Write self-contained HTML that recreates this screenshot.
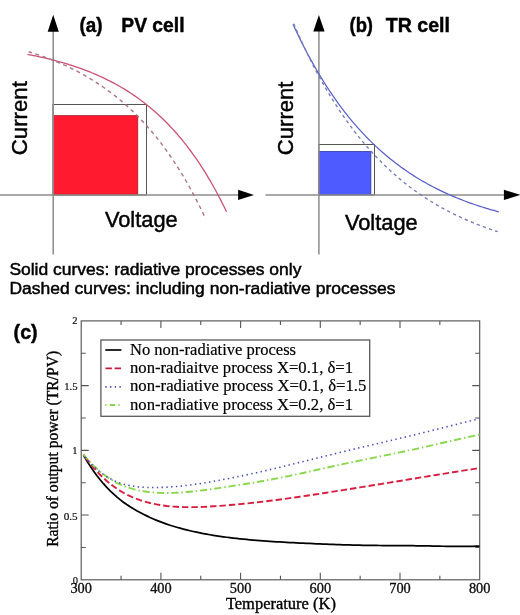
<!DOCTYPE html>
<html><head><meta charset="utf-8"><style>
html,body{margin:0;padding:0;background:#fff;}
svg{display:block;}
.sans{font-family:"Liberation Sans",Arial,sans-serif;}
text.sans{stroke:#000;stroke-width:0.45px;}
.serif text{stroke:#000;stroke-width:0.18px;}
.serif .xl text{stroke-width:0.3px;}
.serif{font-family:"Liberation Serif","Times New Roman",serif;}
</style></head><body>
<svg width="520" height="615" viewBox="0 0 520 615">
<rect width="520" height="615" fill="#fff"/>
<!-- panel (a) -->
<g>
  <rect x="53" y="104.5" width="93.5" height="90.4" fill="#fff" stroke="#555" stroke-width="1"/>
  <rect x="53.2" y="115.6" width="84.6" height="79.3" fill="#ff1a30" stroke="#a0142a" stroke-width="0.7"/>
  <path d="M53.2,30 V254.4" stroke="#8c8c8c" stroke-width="1.5" fill="none"/>
  <path d="M0,194.9 H240" stroke="#8c8c8c" stroke-width="1.5" fill="none"/>
  <path d="M53.2,14.8 L47.7,31.8 L58.8,31.8 Z" fill="#000"/>
  <path d="M254,194.9 L238.1,189.7 L238.1,200.1 Z" fill="#000"/>
  <path d="M27.50,54.38 L29.51,54.77 L31.52,55.16 L33.53,55.57 L35.54,55.98 L37.55,56.40 L39.56,56.84 L41.57,57.28 L43.58,57.74 L45.59,58.21 L47.60,58.69 L49.61,59.18 L51.62,59.68 L53.63,60.19 L55.64,60.72 L57.65,61.26 L59.66,61.82 L61.67,62.38 L63.68,62.96 L65.69,63.56 L67.70,64.17 L69.71,64.79 L71.72,65.44 L73.73,66.09 L75.74,66.76 L77.75,67.45 L79.76,68.16 L81.77,68.88 L83.78,69.62 L85.79,70.38 L87.80,71.16 L89.81,71.96 L91.82,72.77 L93.83,73.61 L95.84,74.46 L97.85,75.34 L99.86,76.24 L101.87,77.16 L103.88,78.11 L105.89,79.07 L107.90,80.07 L109.91,81.08 L111.92,82.12 L113.93,83.19 L115.94,84.28 L117.95,85.40 L119.96,86.54 L121.97,87.72 L123.98,88.92 L125.99,90.16 L128.01,91.42 L130.02,92.71 L132.03,94.04 L134.04,95.40 L136.05,96.79 L138.06,98.21 L140.07,99.68 L142.08,101.17 L144.09,102.71 L146.10,104.28 L148.11,105.89 L150.12,107.54 L152.13,109.23 L154.14,110.96 L156.15,112.73 L158.16,114.55 L160.17,116.41 L162.18,118.32 L164.19,120.27 L166.20,122.28 L168.21,124.33 L170.22,126.43 L172.23,128.58 L174.24,130.79 L176.25,133.05 L178.26,135.37 L180.27,137.74 L182.28,140.17 L184.29,142.66 L186.30,145.22 L188.31,147.83 L190.32,150.51 L192.33,153.26 L194.34,156.07 L196.35,158.95 L198.36,161.90 L200.37,164.93 L202.38,168.03 L204.39,171.20 L206.40,174.45 L208.41,177.79 L210.42,181.20 L212.43,184.70 L214.44,188.29 L216.45,191.96 L218.46,195.72 L220.47,199.58 L222.48,203.53 L224.49,207.57 L226.50,211.72" stroke="#cc5274" stroke-width="1.3" fill="none"/>
  <path d="M28.70,51.71 L30.49,52.26 L32.28,52.83 L34.06,53.40 L35.85,53.99 L37.64,54.59 L39.43,55.20 L41.22,55.82 L43.00,56.46 L44.79,57.10 L46.58,57.77 L48.37,58.44 L50.15,59.13 L51.94,59.83 L53.73,60.54 L55.52,61.27 L57.31,62.01 L59.09,62.77 L60.88,63.54 L62.67,64.33 L64.46,65.14 L66.25,65.96 L68.03,66.79 L69.82,67.65 L71.61,68.52 L73.40,69.40 L75.18,70.31 L76.97,71.23 L78.76,72.17 L80.55,73.13 L82.34,74.11 L84.12,75.11 L85.91,76.13 L87.70,77.16 L89.49,78.22 L91.28,79.30 L93.06,80.40 L94.85,81.52 L96.64,82.67 L98.43,83.84 L100.22,85.03 L102.00,86.24 L103.79,87.48 L105.58,88.74 L107.37,90.03 L109.15,91.35 L110.94,92.69 L112.73,94.05 L114.52,95.45 L116.31,96.87 L118.09,98.32 L119.88,99.80 L121.67,101.30 L123.46,102.84 L125.25,104.41 L127.03,106.01 L128.82,107.64 L130.61,109.30 L132.40,111.00 L134.18,112.73 L135.97,114.49 L137.76,116.29 L139.55,118.12 L141.34,119.99 L143.12,121.90 L144.91,123.85 L146.70,125.83 L148.49,127.86 L150.28,129.92 L152.06,132.02 L153.85,134.17 L155.64,136.36 L157.43,138.59 L159.22,140.87 L161.00,143.19 L162.79,145.56 L164.58,147.98 L166.37,150.44 L168.15,152.95 L169.94,155.51 L171.73,158.12 L173.52,160.79 L175.31,163.51 L177.09,166.28 L178.88,169.10 L180.67,171.98 L182.46,174.92 L184.25,177.92 L186.03,180.98 L187.82,184.10 L189.61,187.27 L191.40,190.52 L193.18,193.82 L194.97,197.20 L196.76,200.64 L198.55,204.14 L200.34,207.72 L202.12,211.37 L203.91,215.09 L205.70,218.88" stroke="#ad7488" stroke-width="1.4" fill="none" stroke-dasharray="3.9,3.51" stroke-dashoffset="0.26"/>
  <text class="sans" x="79.5" y="31.5" font-size="20" font-weight="bold" textLength="23" lengthAdjust="spacingAndGlyphs">(a)</text>
  <text class="sans" x="121.3" y="31.5" font-size="20" font-weight="bold" textLength="63.2" lengthAdjust="spacingAndGlyphs">PV cell</text>
  <text class="sans" transform="translate(26.6,155.2) rotate(-90)" font-size="22.6" textLength="74" lengthAdjust="spacingAndGlyphs">Current</text>
  <text class="sans" x="104.9" y="227.3" font-size="21.5" textLength="72.8" lengthAdjust="spacingAndGlyphs">Voltage</text>
</g>
<!-- panel (b) -->
<g>
  <rect x="318.8" y="144.5" width="55.7" height="50.3" fill="#fff" stroke="#555" stroke-width="1"/>
  <rect x="318.9" y="151.4" width="52" height="43.5" fill="#4d5bff" stroke="#2a2f90" stroke-width="0.7"/>
  <path d="M318.9,30 V254.6" stroke="#8c8c8c" stroke-width="1.5" fill="none"/>
  <path d="M265.5,194.9 H505" stroke="#8c8c8c" stroke-width="1.5" fill="none"/>
  <path d="M318.9,15 L313.3,31.5 L324.6,31.5 Z" fill="#000"/>
  <path d="M520.5,194.9 L503.9,189.8 L503.9,200 Z" fill="#000"/>
  <path d="M293.00,24.20 L295.08,28.70 L297.16,33.10 L299.24,37.40 L301.32,41.62 L303.39,45.75 L305.47,49.79 L307.55,53.75 L309.63,57.62 L311.71,61.41 L313.79,65.12 L315.87,68.76 L317.95,72.31 L320.02,75.80 L322.10,79.20 L324.18,82.54 L326.26,85.81 L328.34,89.01 L330.42,92.14 L332.50,95.21 L334.58,98.21 L336.65,101.14 L338.73,104.02 L340.81,106.84 L342.89,109.59 L344.97,112.29 L347.05,114.93 L349.13,117.52 L351.21,120.05 L353.28,122.53 L355.36,124.96 L357.44,127.33 L359.52,129.66 L361.60,131.93 L363.68,134.16 L365.76,136.34 L367.84,138.48 L369.92,140.57 L371.99,142.62 L374.07,144.62 L376.15,146.58 L378.23,148.50 L380.31,150.38 L382.39,152.22 L384.47,154.03 L386.55,155.79 L388.62,157.52 L390.70,159.21 L392.78,160.86 L394.86,162.48 L396.94,164.07 L399.02,165.62 L401.10,167.14 L403.18,168.63 L405.25,170.09 L407.33,171.51 L409.41,172.91 L411.49,174.28 L413.57,175.61 L415.65,176.92 L417.73,178.21 L419.81,179.46 L421.88,180.69 L423.96,181.89 L426.04,183.07 L428.12,184.23 L430.20,185.35 L432.28,186.46 L434.36,187.54 L436.44,188.60 L438.52,189.64 L440.59,190.65 L442.67,191.65 L444.75,192.62 L446.83,193.57 L448.91,194.50 L450.99,195.42 L453.07,196.31 L455.15,197.18 L457.22,198.04 L459.30,198.88 L461.38,199.70 L463.46,200.50 L465.54,201.29 L467.62,202.06 L469.70,202.81 L471.78,203.55 L473.85,204.27 L475.93,204.98 L478.01,205.67 L480.09,206.35 L482.17,207.01 L484.25,207.66 L486.33,208.30 L488.41,208.92 L490.48,209.53 L492.56,210.13 L494.64,210.71 L496.72,211.28 L498.80,211.84" stroke="#5a60c8" stroke-width="1.25" fill="none"/>
  <path d="M293.00,22.05 L295.07,26.89 L297.14,31.63 L299.20,36.28 L301.27,40.83 L303.34,45.30 L305.41,49.67 L307.47,53.96 L309.54,58.16 L311.61,62.28 L313.68,66.32 L315.74,70.27 L317.81,74.15 L319.88,77.95 L321.95,81.67 L324.02,85.32 L326.08,88.90 L328.15,92.41 L330.22,95.84 L332.29,99.21 L334.35,102.51 L336.42,105.74 L338.49,108.91 L340.56,112.02 L342.62,115.06 L344.69,118.05 L346.76,120.97 L348.83,123.84 L350.89,126.65 L352.96,129.40 L355.03,132.10 L357.10,134.74 L359.17,137.33 L361.23,139.87 L363.30,142.36 L365.37,144.80 L367.44,147.19 L369.50,149.54 L371.57,151.83 L373.64,154.08 L375.71,156.29 L377.77,158.45 L379.84,160.57 L381.91,162.65 L383.98,164.68 L386.05,166.67 L388.11,168.63 L390.18,170.55 L392.25,172.42 L394.32,174.26 L396.38,176.07 L398.45,177.83 L400.52,179.57 L402.59,181.26 L404.65,182.93 L406.72,184.56 L408.79,186.16 L410.86,187.72 L412.93,189.26 L414.99,190.76 L417.06,192.23 L419.13,193.68 L421.20,195.10 L423.26,196.48 L425.33,197.84 L427.40,199.18 L429.47,200.48 L431.53,201.76 L433.60,203.02 L435.67,204.25 L437.74,205.45 L439.81,206.63 L441.87,207.79 L443.94,208.93 L446.01,210.04 L448.08,211.13 L450.14,212.20 L452.21,213.24 L454.28,214.27 L456.35,215.28 L458.41,216.26 L460.48,217.23 L462.55,218.17 L464.62,219.10 L466.68,220.01 L468.75,220.90 L470.82,221.77 L472.89,222.63 L474.96,223.47 L477.02,224.29 L479.09,225.10 L481.16,225.89 L483.23,226.66 L485.29,227.42 L487.36,228.16 L489.43,228.89 L491.50,229.60 L493.56,230.30 L495.63,230.99 L497.70,231.66" stroke="#7a7eb4" stroke-width="1.4" fill="none" stroke-dasharray="3.3,3.2" stroke-dashoffset="4.73"/>
  <text class="sans" x="349.5" y="31.5" font-size="20" font-weight="bold" textLength="23.5" lengthAdjust="spacingAndGlyphs">(b)</text>
  <text class="sans" x="385.8" y="31.5" font-size="20" font-weight="bold" textLength="64.2" lengthAdjust="spacingAndGlyphs">TR cell</text>
  <text class="sans" transform="translate(293.1,155.2) rotate(-90)" font-size="22.6" textLength="73.7" lengthAdjust="spacingAndGlyphs">Current</text>
  <text class="sans" x="344.9" y="229.6" font-size="21.5" textLength="72.8" lengthAdjust="spacingAndGlyphs">Voltage</text>
</g>
<!-- caption lines -->
<text class="sans" x="9.4" y="275.3" font-size="16" textLength="292" lengthAdjust="spacingAndGlyphs">Solid curves: radiative processes only</text>
<text class="sans" x="9.4" y="294.2" font-size="16" textLength="386" lengthAdjust="spacingAndGlyphs">Dashed curves: including non-radiative processes</text>
<!-- panel (c) -->
<text class="sans" x="13.6" y="339.2" font-size="20.5" font-weight="bold" textLength="24" lengthAdjust="spacingAndGlyphs">(c)</text>
<g class="serif">
  <rect x="81.2" y="320.9" width="398.50" height="258.90" fill="none" stroke="#555" stroke-width="1.15"/>
  <path d="M121.05,579.80 V575.80 M121.05,320.90 V324.90 M160.90,579.80 V572.80 M160.90,320.90 V327.90 M200.75,579.80 V575.80 M200.75,320.90 V324.90 M240.60,579.80 V572.80 M240.60,320.90 V327.90 M280.45,579.80 V575.80 M280.45,320.90 V324.90 M320.30,579.80 V572.80 M320.30,320.90 V327.90 M360.15,579.80 V575.80 M360.15,320.90 V324.90 M400.00,579.80 V572.80 M400.00,320.90 V327.90 M439.85,579.80 V575.80 M439.85,320.90 V324.90 M81.20,547.44 H85.70 M479.70,547.44 H475.20 M81.20,515.07 H88.70 M479.70,515.07 H472.20 M81.20,482.71 H85.70 M479.70,482.71 H475.20 M81.20,450.35 H88.70 M479.70,450.35 H472.20 M81.20,417.99 H85.70 M479.70,417.99 H475.20 M81.20,385.62 H88.70 M479.70,385.62 H472.20 M81.20,353.26 H85.70 M479.70,353.26 H475.20" stroke="#555" stroke-width="1.1" fill="none"/>
  <g font-size="13.6" fill="#111" class="xl"><text x="81.20" y="593.2" text-anchor="middle" textLength="21.5" lengthAdjust="spacingAndGlyphs">300</text><text x="160.90" y="593.2" text-anchor="middle" textLength="21.5" lengthAdjust="spacingAndGlyphs">400</text><text x="240.60" y="593.2" text-anchor="middle" textLength="21.5" lengthAdjust="spacingAndGlyphs">500</text><text x="320.30" y="593.2" text-anchor="middle" textLength="21.5" lengthAdjust="spacingAndGlyphs">600</text><text x="400.00" y="593.2" text-anchor="middle" textLength="21.5" lengthAdjust="spacingAndGlyphs">700</text><text x="479.70" y="593.2" text-anchor="middle" textLength="21.5" lengthAdjust="spacingAndGlyphs">800</text></g>
  <g font-size="10.5" fill="#111"><text x="77.40" y="324.10" text-anchor="end">2</text><text x="77.60" y="389.50" text-anchor="end" textLength="13.4" lengthAdjust="spacingAndGlyphs">1.5</text><text x="77.40" y="454.40" text-anchor="end">1</text><text x="77.70" y="520.10" text-anchor="end" textLength="14.0" lengthAdjust="spacingAndGlyphs">0.5</text><text x="77.90" y="584.30" text-anchor="end">0</text></g>
  <text x="280.9" y="608.8" font-size="16" text-anchor="middle" textLength="110" lengthAdjust="spacingAndGlyphs" style="stroke-width:0.35px">Temperature (K)</text>
  <text transform="translate(57.5,448.8) rotate(-90)" font-size="16" text-anchor="middle" textLength="196" lengthAdjust="spacingAndGlyphs" style="stroke-width:0.35px">Ratio of output power (TR/PV)</text>
  <path d="M83.50,455.13 L86.83,460.76 L90.16,466.01 L93.48,470.92 L96.81,475.49 L100.14,479.75 L103.47,483.71 L106.79,487.39 L110.12,490.80 L113.45,493.97 L116.78,496.91 L120.11,499.64 L123.43,502.17 L126.76,504.53 L130.09,506.72 L133.42,508.78 L136.74,510.71 L140.07,512.53 L143.40,514.26 L146.73,515.90 L150.05,517.46 L153.38,518.93 L156.71,520.33 L160.04,521.66 L163.37,522.91 L166.69,524.09 L170.02,525.21 L173.35,526.27 L176.68,527.27 L180.00,528.21 L183.33,529.11 L186.66,529.95 L189.99,530.75 L193.32,531.51 L196.64,532.23 L199.97,532.91 L203.30,533.56 L206.63,534.18 L209.95,534.76 L213.28,535.31 L216.61,535.84 L219.94,536.34 L223.26,536.81 L226.59,537.25 L229.92,537.68 L233.25,538.08 L236.58,538.45 L239.90,538.81 L243.23,539.15 L246.56,539.47 L249.89,539.78 L253.21,540.07 L256.54,540.35 L259.87,540.61 L263.20,540.86 L266.53,541.10 L269.85,541.33 L273.18,541.55 L276.51,541.76 L279.84,541.96 L283.16,542.15 L286.49,542.34 L289.82,542.52 L293.15,542.69 L296.47,542.85 L299.80,543.01 L303.13,543.17 L306.46,543.32 L309.79,543.47 L313.11,543.62 L316.44,543.77 L319.77,543.91 L323.10,544.04 L326.42,544.18 L329.75,544.31 L333.08,544.43 L336.41,544.55 L339.74,544.67 L343.06,544.78 L346.39,544.88 L349.72,544.98 L353.05,545.07 L356.37,545.15 L359.70,545.22 L363.03,545.29 L366.36,545.35 L369.68,545.39 L373.01,545.44 L376.34,545.47 L379.67,545.50 L383.00,545.53 L386.32,545.55 L389.65,545.57 L392.98,545.59 L396.31,545.61 L399.63,545.62 L402.96,545.64 L406.29,545.67 L409.62,545.69 L412.95,545.73 L416.27,545.76 L419.60,545.81 L422.93,545.86 L426.26,545.92 L429.58,545.98 L432.91,546.05 L436.24,546.12 L439.57,546.19 L442.89,546.25 L446.22,546.31 L449.55,546.36 L452.88,546.40 L456.21,546.42 L459.53,546.43 L462.86,546.43 L466.19,546.40 L469.52,546.35 L472.84,546.28 L476.17,546.18 L479.50,546.05" stroke="#000" stroke-width="1.75" fill="none"/>
  <path d="M83.50,454.59 L86.83,459.20 L90.16,463.51 L93.48,467.54 L96.81,471.30 L100.14,474.79 L103.47,478.03 L106.79,481.03 L110.12,483.79 L113.45,486.34 L116.78,488.68 L120.11,490.82 L123.43,492.77 L126.76,494.55 L130.09,496.16 L133.42,497.62 L136.74,498.94 L140.07,500.12 L143.40,501.18 L146.73,502.13 L150.05,502.98 L153.38,503.74 L156.71,504.41 L160.04,504.99 L163.37,505.50 L166.69,505.94 L170.02,506.30 L173.35,506.59 L176.68,506.82 L180.00,506.99 L183.33,507.11 L186.66,507.17 L189.99,507.19 L193.32,507.16 L196.64,507.10 L199.97,506.99 L203.30,506.86 L206.63,506.70 L209.95,506.51 L213.28,506.30 L216.61,506.08 L219.94,505.84 L223.26,505.59 L226.59,505.33 L229.92,505.05 L233.25,504.76 L236.58,504.45 L239.90,504.14 L243.23,503.81 L246.56,503.47 L249.89,503.12 L253.21,502.75 L256.54,502.38 L259.87,502.00 L263.20,501.61 L266.53,501.20 L269.85,500.79 L273.18,500.37 L276.51,499.94 L279.84,499.50 L283.16,499.06 L286.49,498.60 L289.82,498.14 L293.15,497.68 L296.47,497.20 L299.80,496.72 L303.13,496.24 L306.46,495.74 L309.79,495.25 L313.11,494.75 L316.44,494.24 L319.77,493.73 L323.10,493.21 L326.42,492.70 L329.75,492.18 L333.08,491.65 L336.41,491.13 L339.74,490.60 L343.06,490.07 L346.39,489.54 L349.72,489.01 L353.05,488.48 L356.37,487.94 L359.70,487.41 L363.03,486.87 L366.36,486.34 L369.68,485.80 L373.01,485.26 L376.34,484.73 L379.67,484.19 L383.00,483.65 L386.32,483.11 L389.65,482.57 L392.98,482.03 L396.31,481.48 L399.63,480.94 L402.96,480.40 L406.29,479.85 L409.62,479.31 L412.95,478.77 L416.27,478.22 L419.60,477.68 L422.93,477.13 L426.26,476.59 L429.58,476.05 L432.91,475.50 L436.24,474.96 L439.57,474.42 L442.89,473.88 L446.22,473.34 L449.55,472.81 L452.88,472.27 L456.21,471.74 L459.53,471.21 L462.86,470.68 L466.19,470.15 L469.52,469.63 L472.84,469.11 L476.17,468.59 L479.50,468.07" stroke="#d81e40" stroke-width="1.9" fill="none" stroke-dasharray="6.4,3" stroke-dashoffset="5.66"/>
  <path d="M83.50,454.50 L86.83,458.50 L90.16,462.21 L93.48,465.64 L96.81,468.80 L100.14,471.71 L103.47,474.37 L106.79,476.80 L110.12,479.00 L113.45,481.00 L116.78,482.79 L120.11,484.40 L123.43,485.82 L126.76,487.08 L130.09,488.18 L133.42,489.14 L136.74,489.97 L140.07,490.67 L143.40,491.26 L146.73,491.75 L150.05,492.15 L153.38,492.46 L156.71,492.70 L160.04,492.87 L163.37,492.97 L166.69,493.00 L170.02,492.98 L173.35,492.89 L176.68,492.75 L180.00,492.56 L183.33,492.33 L186.66,492.06 L189.99,491.74 L193.32,491.40 L196.64,491.02 L199.97,490.62 L203.30,490.19 L206.63,489.75 L209.95,489.29 L213.28,488.83 L216.61,488.36 L219.94,487.88 L223.26,487.40 L226.59,486.91 L229.92,486.41 L233.25,485.91 L236.58,485.39 L239.90,484.87 L243.23,484.35 L246.56,483.81 L249.89,483.26 L253.21,482.71 L256.54,482.14 L259.87,481.56 L263.20,480.97 L266.53,480.37 L269.85,479.76 L273.18,479.13 L276.51,478.50 L279.84,477.84 L283.16,477.18 L286.49,476.50 L289.82,475.81 L293.15,475.11 L296.47,474.39 L299.80,473.68 L303.13,472.95 L306.46,472.22 L309.79,471.48 L313.11,470.74 L316.44,470.00 L319.77,469.25 L323.10,468.51 L326.42,467.77 L329.75,467.02 L333.08,466.28 L336.41,465.55 L339.74,464.82 L343.06,464.10 L346.39,463.39 L349.72,462.68 L353.05,461.98 L356.37,461.29 L359.70,460.60 L363.03,459.91 L366.36,459.23 L369.68,458.56 L373.01,457.88 L376.34,457.21 L379.67,456.53 L383.00,455.85 L386.32,455.18 L389.65,454.49 L392.98,453.81 L396.31,453.12 L399.63,452.42 L402.96,451.72 L406.29,451.01 L409.62,450.30 L412.95,449.57 L416.27,448.83 L419.60,448.09 L422.93,447.34 L426.26,446.59 L429.58,445.83 L432.91,445.07 L436.24,444.31 L439.57,443.54 L442.89,442.78 L446.22,442.02 L449.55,441.26 L452.88,440.50 L456.21,439.75 L459.53,439.00 L462.86,438.26 L466.19,437.52 L469.52,436.80 L472.84,436.08 L476.17,435.38 L479.50,434.68" stroke="#8ad64c" stroke-width="1.9" fill="none" stroke-dasharray="7.2,2.9,1.5,2.8" stroke-dashoffset="0.76"/>
  <path d="M83.50,454.85 L86.83,458.97 L90.16,462.73 L93.48,466.14 L96.81,469.23 L100.14,472.01 L103.47,474.49 L106.79,476.69 L110.12,478.64 L113.45,480.33 L116.78,481.80 L120.11,483.06 L123.43,484.12 L126.76,485.00 L130.09,485.72 L133.42,486.29 L136.74,486.74 L140.07,487.06 L143.40,487.29 L146.73,487.44 L150.05,487.53 L153.38,487.56 L156.71,487.54 L160.04,487.47 L163.37,487.36 L166.69,487.20 L170.02,487.00 L173.35,486.76 L176.68,486.48 L180.00,486.17 L183.33,485.81 L186.66,485.43 L189.99,485.02 L193.32,484.57 L196.64,484.10 L199.97,483.61 L203.30,483.09 L206.63,482.54 L209.95,481.98 L213.28,481.40 L216.61,480.81 L219.94,480.20 L223.26,479.58 L226.59,478.94 L229.92,478.29 L233.25,477.62 L236.58,476.95 L239.90,476.26 L243.23,475.56 L246.56,474.85 L249.89,474.13 L253.21,473.40 L256.54,472.66 L259.87,471.91 L263.20,471.15 L266.53,470.39 L269.85,469.61 L273.18,468.83 L276.51,468.05 L279.84,467.25 L283.16,466.45 L286.49,465.65 L289.82,464.84 L293.15,464.03 L296.47,463.21 L299.80,462.39 L303.13,461.57 L306.46,460.75 L309.79,459.92 L313.11,459.09 L316.44,458.27 L319.77,457.44 L323.10,456.62 L326.42,455.79 L329.75,454.97 L333.08,454.15 L336.41,453.34 L339.74,452.52 L343.06,451.72 L346.39,450.91 L349.72,450.11 L353.05,449.32 L356.37,448.53 L359.70,447.75 L363.03,446.96 L366.36,446.18 L369.68,445.40 L373.01,444.63 L376.34,443.85 L379.67,443.07 L383.00,442.30 L386.32,441.52 L389.65,440.74 L392.98,439.96 L396.31,439.17 L399.63,438.39 L402.96,437.60 L406.29,436.80 L409.62,436.00 L412.95,435.19 L416.27,434.38 L419.60,433.56 L422.93,432.74 L426.26,431.92 L429.58,431.09 L432.91,430.25 L436.24,429.42 L439.57,428.58 L442.89,427.75 L446.22,426.91 L449.55,426.08 L452.88,425.24 L456.21,424.41 L459.53,423.58 L462.86,422.75 L466.19,421.93 L469.52,421.11 L472.84,420.29 L476.17,419.48 L479.50,418.68" stroke="#4650b4" stroke-width="1.6" fill="none" stroke-dasharray="1.4,3.38" stroke-dashoffset="2.02"/>
  <rect x="100.9" y="340" width="268.8" height="76.3" fill="#fff" stroke="#5a5a5a" stroke-width="1.3"/>
  <path d="M105.3,350 H121.4" stroke="#111" stroke-width="1.8"/>
  <path d="M105.5,368.4 H121.6" stroke="#c81a3c" stroke-width="1.8" stroke-dasharray="6.4,2.7"/>
  <path d="M105.3,386.9 H121.4" stroke="#4650b4" stroke-width="1.6" stroke-dasharray="1.4,3.3"/>
  <path d="M105.3,405 H121.4" stroke="#8ad64c" stroke-width="1.9" stroke-dasharray="1.2,3.3,5.4,3.3"/>
  <g font-size="16" fill="#000">
    <text x="130" y="354.6" textLength="166" lengthAdjust="spacingAndGlyphs">No non-radiative process</text>
    <text x="130" y="373" textLength="223" lengthAdjust="spacingAndGlyphs">non-radiaitve process X=0.1, &#948;=1</text>
    <text x="130" y="391.4" textLength="236.3" lengthAdjust="spacingAndGlyphs">non-radiative process X=0.1, &#948;=1.5</text>
    <text x="130" y="409.8" textLength="223" lengthAdjust="spacingAndGlyphs">non-radiative process X=0.2, &#948;=1</text>
  </g>
</g>
</svg>
</body></html>
